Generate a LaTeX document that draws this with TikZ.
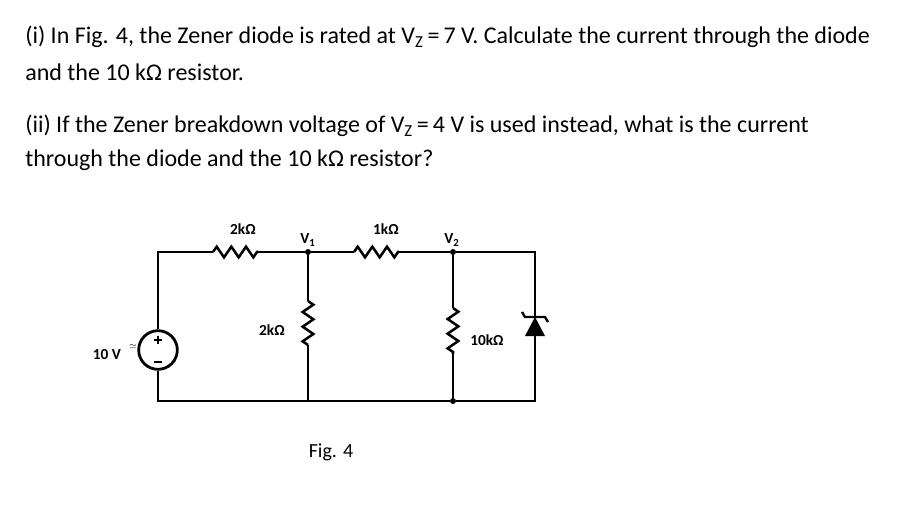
\documentclass[tikz,border=0pt]{standalone}
\usepackage{fontspec}
\setmainfont{Carlito}
\usetikzlibrary{decorations.pathmorphing}
\begin{document}
\begin{tikzpicture}[x=0.75pt,y=-0.75pt,
  wire/.style={line width=2.1pt},
  res/.style={line width=1.9pt,decorate,decoration={zigzag,segment length=11pt,amplitude=4pt}},
  lbl/.style={font=\bfseries\fontsize{11.5}{13}\selectfont},
  txt/.style={anchor=west,font=\fontsize{18}{21}\selectfont,inner sep=0},
  dot/.style={circle,fill,inner sep=0,minimum size=4.5pt}]
\useasboundingbox (0,0) rectangle (907,512);
\node[txt] (t1) at (25,37) {(i) In Fig. 4, the Zener diode is rated at V\textsubscript{Z}\,=\,7 V. Calculate the current through the diode};
\node[txt] (t2) at (25,72) {and the 10 kΩ resistor.};
\node[txt] (t3) at (25,126) {(ii) If the Zener breakdown voltage of V\textsubscript{Z}\,=\,4 V is used instead, what is the current};
\node[txt] (t4) at (25,160) {through the diode and the 10 kΩ resistor?};
% nodes
\coordinate (tl) at (158,252); \coordinate (bl) at (158,401);
\node[dot] (v1) at (308,252) {}; \node[dot] (v2) at (453,252) {};
\coordinate (b1) at (308,401); \node[dot] (b2) at (453,401) {};
\coordinate (tr) at (535,252); \coordinate (br) at (535,401);
\node[circle,draw,line width=2.1pt,minimum size=29pt,inner sep=0] (src) at (158,350) {};
\coordinate (r1a) at (213,252); \coordinate (r1b) at (258,252);
\coordinate (r2a) at (354,252); \coordinate (r2b) at (399,252);
\coordinate (r3a) at (308,301); \coordinate (r3b) at (308,345);
\coordinate (r4a) at (453,308); \coordinate (r4b) at (453,354);
\coordinate (za) at (535,336); \coordinate (zk) at (535,317);
% wires
\draw[wire] (src.north) -- (tl) -- (r1a);
\draw[res] (r1a) -- (r1b);
\draw[wire] (r1b) -- (v1) -- (r2a);
\draw[res] (r2a) -- (r2b);
\draw[wire] (r2b) -- (v2) -- (tr) -- (zk);
\draw[wire] (za) -- (br) -- (b2) -- (b1) -- (bl) -- (src.south);
\draw[wire] (v1) -- (r3a); \draw[res] (r3a) -- (r3b); \draw[wire] (r3b) -- (b1);
\draw[wire] (v2) -- (r4a); \draw[res] (r4a) -- (r4b); \draw[wire] (r4b) -- (b2);
% zener
\fill (za) ++(-10,0) -- ++(20,0) -- (zk) -- cycle;
\draw[line width=1.8pt] (zk) ++(-13,-5) -- ++(3,5) -- ++(20,0) -- ++(3,5);
% source signs
\draw[line width=1.6pt] (154,340) -- (162,340) (158,336) -- (158,344);
\draw[line width=1.8pt] (154,362) -- (162,362);
\node[font=\fontsize{6}{7}\selectfont,inner sep=0] (dc) at (133,346) {$\simeq$};
% labels
\node[lbl] (l1) at (243,229) {2kΩ};
\node[lbl] (l2) at (386,229) {1kΩ};
\node[lbl] (lv1) at (308,240) {V\textsubscript{1}};
\node[lbl] (lv2) at (452,240) {V\textsubscript{2}};
\node[lbl] (l3) at (272,330) {2kΩ};
\node[lbl] (l4) at (487,340) {10kΩ};
\node[lbl] (l5) at (107,355) {10 V};
\node[font=\fontsize{15}{18}\selectfont] (fig) at (331,452) {Fig. 4};
\end{tikzpicture}
\end{document}
